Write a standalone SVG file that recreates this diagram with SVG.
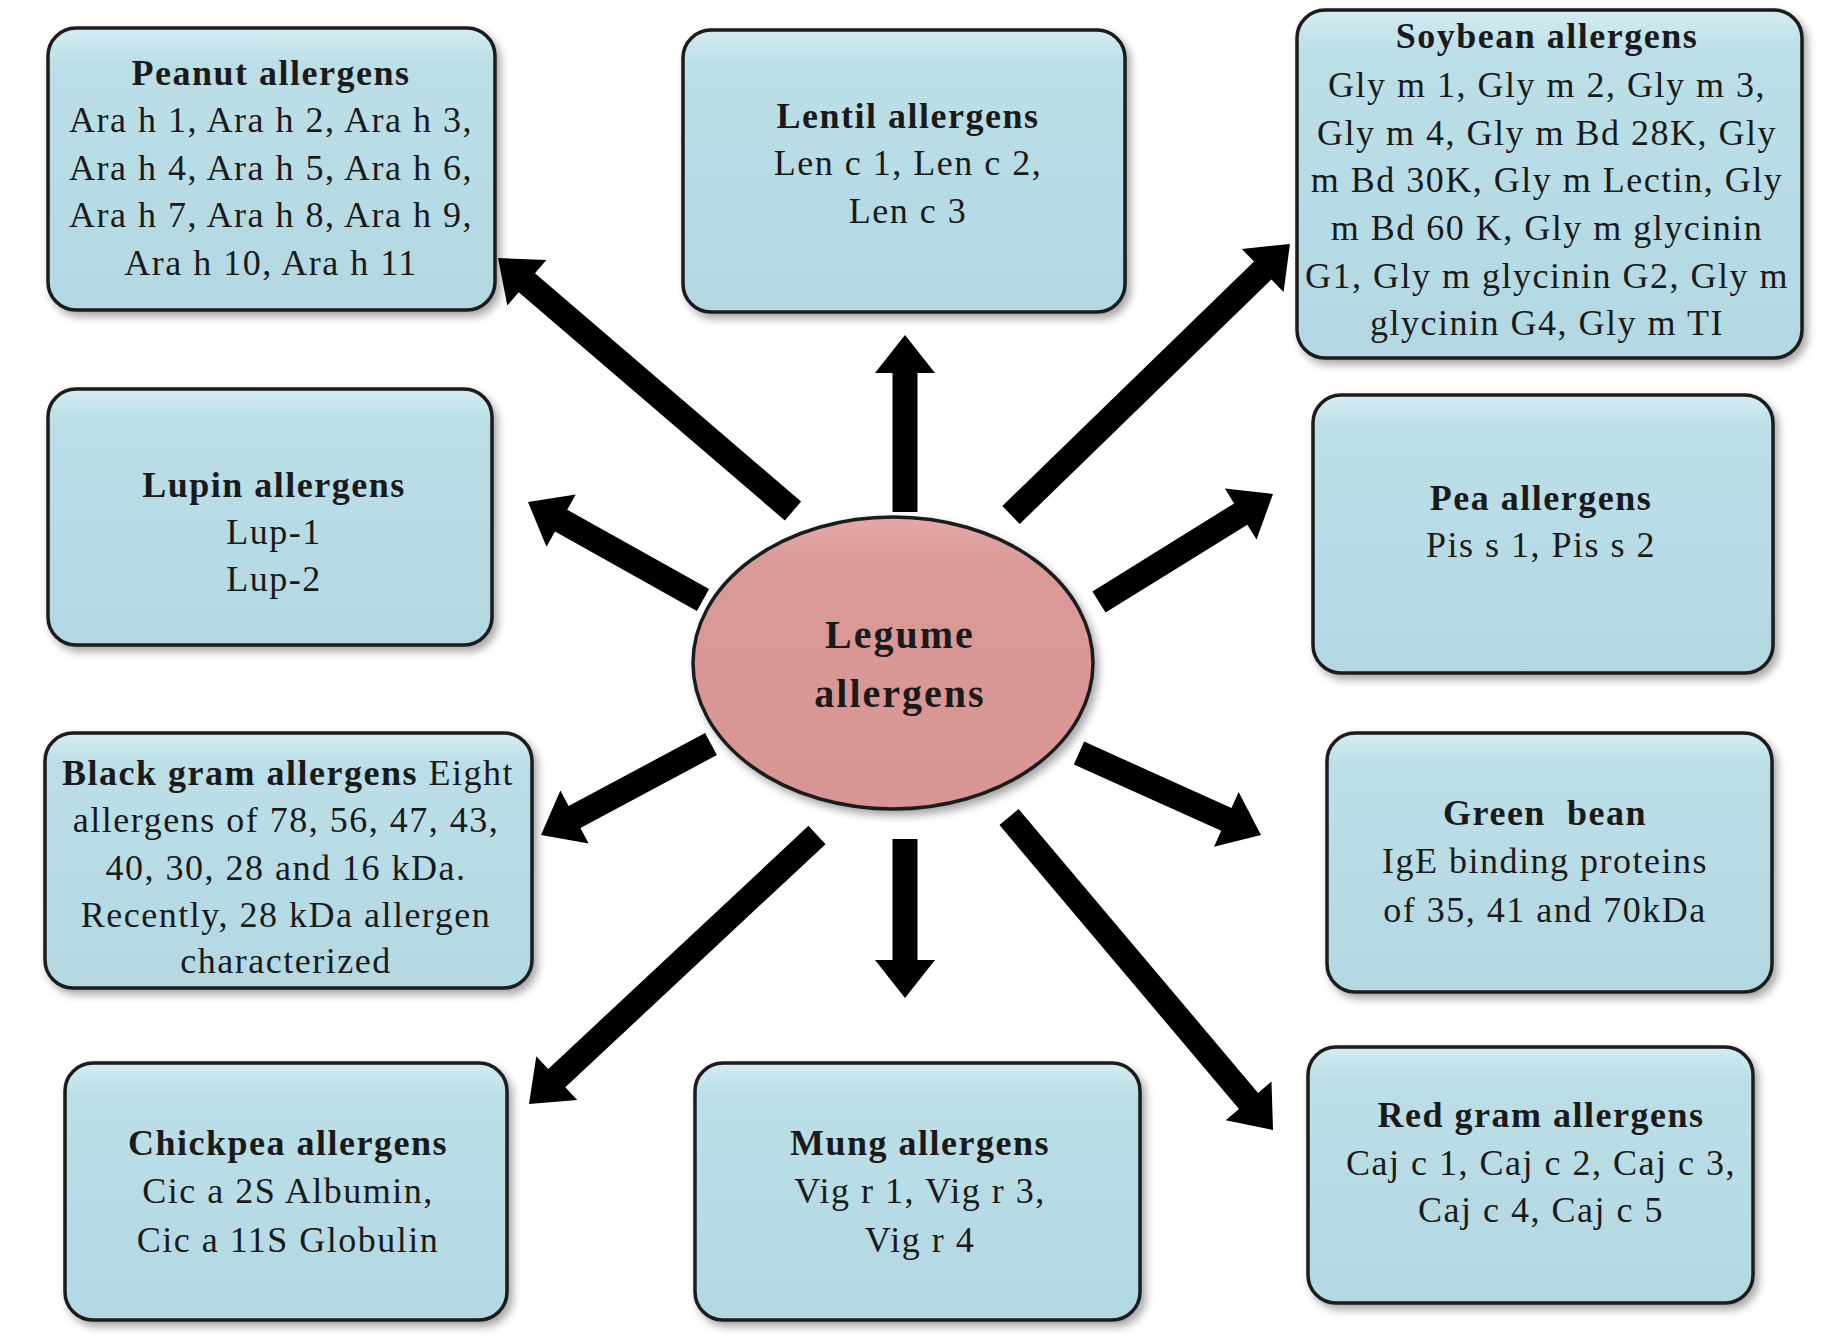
<svg xmlns="http://www.w3.org/2000/svg" width="1823" height="1338" viewBox="0 0 1823 1338">
<defs>
<linearGradient id="boxg" x1="0" y1="0" x2="0" y2="1">
<stop offset="0" stop-color="#d3ecf2"/>
<stop offset="0.12" stop-color="#bcdfe7"/>
<stop offset="1" stop-color="#b3d8e2"/>
</linearGradient>
<linearGradient id="ellg" x1="0" y1="0" x2="0" y2="1">
<stop offset="0" stop-color="#e4aaa8"/>
<stop offset="0.15" stop-color="#da9a98"/>
<stop offset="1" stop-color="#d79593"/>
</linearGradient>
<filter id="sh" x="-10%" y="-10%" width="125%" height="125%">
<feDropShadow dx="4" dy="5" stdDeviation="4" flood-color="#000" flood-opacity="0.35"/>
</filter>
</defs>
<style>
.box{fill:url(#boxg);stroke:#1a1a1a;stroke-width:3.5;filter:url(#sh)}
.ell{fill:url(#ellg);stroke:#1a1a1a;stroke-width:3.5;filter:url(#sh)}
text{font-family:"Liberation Serif","Times New Roman",serif;font-size:36px;fill:#1a1a1a;text-anchor:middle;letter-spacing:1.5px}
.t{font-weight:bold}
.c{font-size:40px;font-weight:bold;letter-spacing:2px}
.arr{fill:#000}
</style>
<rect width="1823" height="1338" fill="#fff"/>

<g id="connectors">
<polygon class="arr" transform="translate(793,511) rotate(-139.39)" points="0,-12.5 350.6,-12.5 350.6,-30 388.6,0 350.6,30 350.6,12.5 0,12.5"/>
<polygon class="arr" transform="translate(905,512) rotate(-90)" points="0,-12.5 139,-12.5 139,-30 177,0 139,30 139,12.5 0,12.5"/>
<polygon class="arr" transform="translate(1011,515) rotate(-44.17)" points="0,-12.5 350.9,-12.5 350.9,-30 388.9,0 350.9,30 350.9,12.5 0,12.5"/>
<polygon class="arr" transform="translate(703,600) rotate(-150.75)" points="0,-12.5 162.6,-12.5 162.6,-30 200.6,0 162.6,30 162.6,12.5 0,12.5"/>
<polygon class="arr" transform="translate(1099,602) rotate(-31.83)" points="0,-12.5 166.8,-12.5 166.8,-30 204.8,0 166.8,30 166.8,12.5 0,12.5"/>
<polygon class="arr" transform="translate(711,744) rotate(151.84)" points="0,-12.5 154.8,-12.5 154.8,-30 192.8,0 154.8,30 154.8,12.5 0,12.5"/>
<polygon class="arr" transform="translate(1079,753) rotate(24.25)" points="0,-12.5 161.6,-12.5 161.6,-30 199.6,0 161.6,30 161.6,12.5 0,12.5"/>
<polygon class="arr" transform="translate(817,835) rotate(136.95)" points="0,-12.5 356.1,-12.5 356.1,-30 394.1,0 356.1,30 356.1,12.5 0,12.5"/>
<polygon class="arr" transform="translate(905,839) rotate(90)" points="0,-12.5 121,-12.5 121,-30 159,0 121,30 121,12.5 0,12.5"/>
<polygon class="arr" transform="translate(1009,817) rotate(49.85)" points="0,-12.5 371.5,-12.5 371.5,-30 409.5,0 371.5,30 371.5,12.5 0,12.5"/>
</g>

<g id="legume">
<ellipse class="ell" cx="893" cy="663" rx="200" ry="146"/>
<text class="c" x="900" y="648">Legume</text>
<text class="c" x="900" y="707">allergens</text>
</g>

<g id="peanut">
<rect class="box" x="48" y="28" width="447" height="282" rx="28"/>
<text class="t" x="271" y="85">Peanut allergens</text>
<text x="271" y="132">Ara h 1, Ara h 2, Ara h 3,</text>
<text x="271" y="180">Ara h 4, Ara h 5, Ara h 6,</text>
<text x="271" y="227">Ara h 7, Ara h 8, Ara h 9,</text>
<text x="271" y="275">Ara h 10, Ara h 11</text>
</g>

<g id="lentil">
<rect class="box" x="683" y="30" width="442" height="282" rx="28"/>
<text class="t" x="908" y="128">Lentil allergens</text>
<text x="908" y="175">Len c 1, Len c 2,</text>
<text x="908" y="223">Len c 3</text>
</g>

<g id="soybean">
<rect class="box" x="1297" y="10" width="505" height="348" rx="28"/>
<text class="t" x="1547" y="48">Soybean allergens</text>
<text x="1547" y="97">Gly m 1, Gly m 2, Gly m 3,</text>
<text x="1547" y="145">Gly m 4, Gly m Bd 28K, Gly</text>
<text x="1547" y="192">m Bd 30K, Gly m Lectin, Gly</text>
<text x="1547" y="240">m Bd 60 K, Gly m glycinin</text>
<text x="1547" y="288">G1, Gly m glycinin G2, Gly m</text>
<text x="1547" y="335">glycinin G4, Gly m TI</text>
</g>

<g id="lupin">
<rect class="box" x="48" y="389" width="444" height="256" rx="28"/>
<text class="t" x="274" y="497">Lupin allergens</text>
<text x="274" y="544">Lup-1</text>
<text x="274" y="591">Lup-2</text>
</g>

<g id="pea">
<rect class="box" x="1313" y="395" width="460" height="278" rx="28"/>
<text class="t" x="1541" y="510">Pea allergens</text>
<text x="1541" y="557">Pis s 1, Pis s 2</text>
</g>

<g id="blackgram">
<rect class="box" x="45" y="733" width="487" height="255" rx="28"/>
<text x="288" y="785"><tspan class="t">Black gram allergens</tspan> Eight</text>
<text x="286" y="832">allergens of 78, 56, 47, 43,</text>
<text x="286" y="880">40, 30, 28 and 16 kDa.</text>
<text x="286" y="927">Recently, 28 kDa allergen</text>
<text x="286" y="973">characterized</text>
</g>

<g id="greenbean">
<rect class="box" x="1327" y="733" width="445" height="259" rx="28"/>
<text class="t" x="1545" y="825" xml:space="preserve">Green  bean</text>
<text x="1545" y="873">IgE binding proteins</text>
<text x="1545" y="922">of 35, 41 and 70kDa</text>
</g>

<g id="chickpea">
<rect class="box" x="65" y="1063" width="442" height="257" rx="28"/>
<text class="t" x="288" y="1155">Chickpea allergens</text>
<text x="288" y="1203">Cic a 2S Albumin,</text>
<text x="288" y="1252">Cic a 11S Globulin</text>
</g>

<g id="mung">
<rect class="box" x="695" y="1063" width="445" height="257" rx="28"/>
<text class="t" x="920" y="1155">Mung allergens</text>
<text x="920" y="1203">Vig r 1, Vig r 3,</text>
<text x="920" y="1252">Vig r 4</text>
</g>

<g id="redgram">
<rect class="box" x="1308" y="1047" width="445" height="256" rx="28"/>
<text class="t" x="1541" y="1127">Red gram allergens</text>
<text x="1541" y="1175">Caj c 1, Caj c 2, Caj c 3,</text>
<text x="1541" y="1222">Caj c 4, Caj c 5</text>
</g>
</svg>
